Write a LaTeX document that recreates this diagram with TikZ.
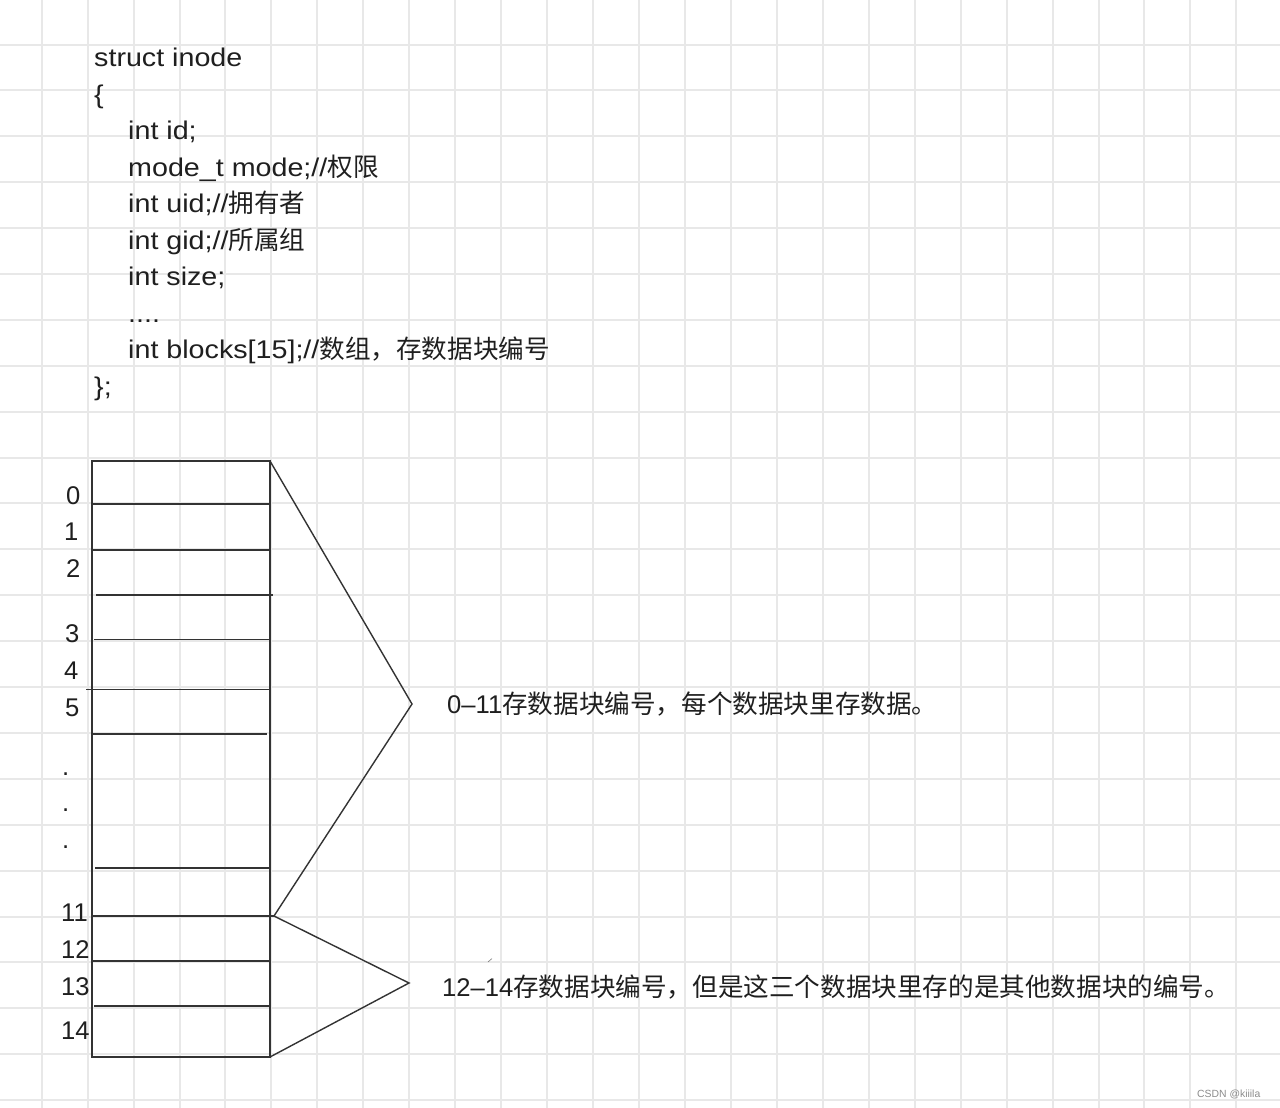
\documentclass[tikz,border=0pt]{standalone}
\usepackage{fontspec}
\setmainfont{Liberation Sans}
\newfontfamily\codefont[FakeStretch=1.12]{Liberation Sans}
\newfontfamily\cjk{Noto Sans CJK SC}
\tikzset{
  gridline/.style={draw=black!9, line width=2pt},
  shape line/.style={draw=black!80, line width=1.4pt},
  codetext/.style={anchor=base west, inner sep=0pt, font=\codefont\fontsize{25.6}{30}\selectfont, text=black!88},
  label/.style={anchor=base west, inner sep=0pt, font=\fontsize{25.6}{30}\selectfont, text=black!88},
  note/.style={anchor=base west, inner sep=0pt, font=\fontsize{25.6}{30}\selectfont, text=black!88},
}
\begin{document}
\begin{tikzpicture}[x=1pt,y=-1pt]
\useasboundingbox (0,0) rectangle (1280,1108);
\fill[white] (0,0) rectangle (1280,1108);
% grid
\foreach \i in {0,...,27} {
  \pgfmathsetmacro{\gx}{round(41.7+45.95*\i)}
  \draw[gridline] (\gx,0) -- (\gx,1108);
}
\foreach \j in {0,...,23} {
  \pgfmathsetmacro{\gy}{round(44.5+45.9*\j)}
  \draw[gridline] (0,\gy) -- (1280,\gy);
}

% struct text
\node[codetext] (l0) at (94,66.5) {struct inode};
\node[codetext] (l1) at (94,103) {\{};
\node[codetext] (l2) at (128,139.5) {int id;};
\node[codetext] (l3) at (128,176) {mode\_t mode;//{\cjk 权限}};
\node[codetext] (l4) at (128,212.5) {int uid;//{\cjk 拥有者}};
\node[codetext] (l5) at (128,249) {int gid;//{\cjk 所属组}};
\node[codetext] (l6) at (128,285.5) {int size;};
\node[codetext] (l7) at (128,322) {....};
\node[codetext] (l8) at (128,358.5) {int blocks[15];//{\cjk 数组，存数据块编号}};
\node[codetext] (l9) at (94,395) {\};};

% block array
\coordinate (tl) at (92,461);
\coordinate (tr) at (270,461);
\coordinate (bl) at (92,1057);
\coordinate (br) at (270,1057);
\coordinate (m11) at (274,916);
\coordinate (apexA) at (412,704);
\coordinate (apexB) at (409,983);
\draw[shape line] (tl) -- (tr) -- (br) -- (bl) -- cycle;
\draw[shape line] (92,504) -- (270,504);
\draw[shape line] (92,550) -- (270,550);
\draw[shape line] (96,595) -- (273,595);
\draw[shape line] (94,639.5) -- (270,639.5);
\draw[shape line] (86,689.5) -- (270,689.5);
\draw[shape line] (91,734) -- (267,734);
\draw[shape line] (95,868) -- (270,868);
\draw[shape line] (92,916) -- (m11);
\draw[shape line] (92,961) -- (270,961);
\draw[shape line] (94,1006) -- (270,1006);
\draw[shape line, line join=miter] (tr) -- (apexA) -- (m11) -- (apexB) -- (br);

% labels
\node[label] (n0) at (66,504) {0};
\node[label] (n1) at (64,540.5) {1};
\node[label] (n2) at (66,577) {2};
\node[label] (n3) at (65,642.5) {3};
\node[label] (n4) at (64,679) {4};
\node[label] (n5) at (65,716.5) {5};
\node[label] (d1) at (62,775) {.};
\node[label] (d2) at (62,811.5) {.};
\node[label] (d3) at (62,848) {.};
\node[label] (n11) at (61,921.5) {11};
\node[label] (n12) at (61,958) {12};
\node[label] (n13) at (61,995) {13};
\node[label] (n14) at (61,1039) {14};

% notes
\node[note] (t1) at (447,713.5) {0–11{\cjk 存数据块编号，每个数据块里存数据。}};
\node[note] (t2) at (442,996) {12–14{\cjk 存数据块编号，但是这三个数据块里存的是其他数据块的编号。}};
\draw[black!50, line width=0.6pt] (488,962) -- (492,958.5);

% watermark
\node[anchor=base west, inner sep=0pt, font=\fontsize{10.4}{12}\selectfont, text=black!45] (wm) at (1197,1097) {CSDN @kiiila};
\end{tikzpicture}
\end{document}
